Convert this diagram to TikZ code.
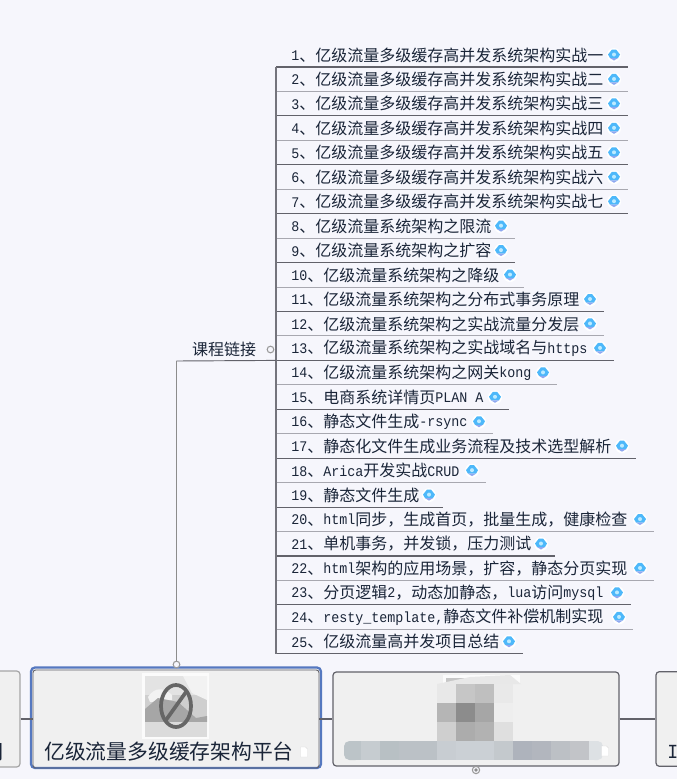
\documentclass[tikz,border=0pt]{standalone}
\usepackage{fontspec}
\setmainfont{Noto Sans CJK SC}
\newfontfamily\latinm[FakeStretch=0.91]{Liberation Mono}
\newcommand{\mm}[1]{\raisebox{0.5pt}{\fontsize{11pt}{12pt}\latinm #1}}
\definecolor{bgc}{HTML}{F6F6FC}
\definecolor{boxf}{HTML}{F0F0F0}
\definecolor{txtc}{HTML}{1A2538}
\definecolor{linedark}{HTML}{62626A}
\definecolor{linelight}{HTML}{A8A8B0}
\definecolor{trunkc}{HTML}{74747C}
\definecolor{selblue}{HTML}{5578C0}
\definecolor{gemb}{HTML}{4DB8FA}
\definecolor{gemc}{HTML}{BDEBFF}
\definecolor{gemp}{HTML}{8FA8F0}
\definecolor{mA}{HTML}{BCC4C8}
\definecolor{mB}{HTML}{C6CCD0}
\definecolor{mC}{HTML}{B8C0C4}
\definecolor{mD}{HTML}{BBC1C6}
\definecolor{mE}{HTML}{C8CDD2}
\definecolor{mF}{HTML}{CBD0D5}
\definecolor{mG}{HTML}{C4C9CD}
\definecolor{mH}{HTML}{AEB3BC}
\definecolor{mI}{HTML}{B2B6BE}
\definecolor{mJ}{HTML}{BCC0C5}
\definecolor{mK}{HTML}{C2C4C8}
\definecolor{mL}{HTML}{DDE1E4}
\tikzset{
  rowlabel/.style={anchor=west,inner sep=0pt,text=txtc,font=\fontsize{12pt}{12pt}\selectfont},
  mapbox/.style={draw=#1,line width=0.9pt,rounded corners=2.5pt,fill=boxf},
  boxlabel/.style={inner sep=0pt,text=txtc,font=\fontsize{15.6pt}{16pt}\selectfont},
  conn/.style={draw=linedark,line width=1.3pt},
  knob/.style={circle,draw=gray!80,line width=0.8pt,fill=bgc,inner sep=0pt,minimum size=5pt},
}
\newcommand{\gem}[2]{%
  \fill[white] (#1,#2) circle (7);
  \fill[gemb] (#1-6,#2-0.5) -- (#1-2,#2-5.5) -- (#1+2,#2-5.5) -- (#1+6,#2-0.5) -- (#1+4,#2+3) -- (#1-4,#2+3) -- cycle;
  \fill[gemp] (#1-4,#2+3) -- (#1+4,#2+3) -- (#1,#2+5.5) -- cycle;
  \fill[gemc] (#1,#2-0.5) circle (2);
}
\newcommand{\docicon}[2]{%
  \fill[white,draw=gray!25,line width=0.3pt] (#1-3.5,#2-5) -- (#1+1.5,#2-5) -- (#1+3.5,#2-3) -- (#1+3.5,#2+5) -- (#1-3.5,#2+5) -- cycle;
}
\newcommand{\rowitem}[3]{%
  \pgfmathsetmacro{\ry}{67+24.45*(#1-1)}
  \coordinate (l#1) at (276,\ry);
  \coordinate (e#1) at (#3,\ry);
  \node[rowlabel] (r#1) at (291,\ry-12) {\mm{#1}#2};
  \ifodd#1\relax
    \draw[draw=linedark,line width=0.8pt] (l#1) -- (e#1);
  \else
    \draw[draw=linelight,line width=0.8pt] (l#1) -- (e#1);
  \fi
  \gem{#3-14}{\ry-12}
}
\newcommand{\tile}[5]{\fill[#5] (#1,#2) rectangle (#3,#4);}
\begin{document}
\begin{tikzpicture}[x=0.75pt,y=-0.75pt]
\useasboundingbox (0,0) rectangle (677,779);
\fill[bgc] (0,0) rectangle (677,779);
\clip (0,0) rectangle (677,779);

% rows
\rowitem{1}{、亿级流量多级缓存高并发系统架构实战一}{628}
\rowitem{2}{、亿级流量多级缓存高并发系统架构实战二}{628}
\rowitem{3}{、亿级流量多级缓存高并发系统架构实战三}{628}
\rowitem{4}{、亿级流量多级缓存高并发系统架构实战四}{628}
\rowitem{5}{、亿级流量多级缓存高并发系统架构实战五}{628}
\rowitem{6}{、亿级流量多级缓存高并发系统架构实战六}{628}
\rowitem{7}{、亿级流量多级缓存高并发系统架构实战七}{628}
\rowitem{8}{、亿级流量系统架构之限流}{515}
\rowitem{9}{、亿级流量系统架构之扩容}{515}
\rowitem{10}{、亿级流量系统架构之降级}{524}
\rowitem{11}{、亿级流量系统架构之分布式事务原理}{604}
\rowitem{12}{、亿级流量系统架构之实战流量分发层}{604}
\rowitem{13}{、亿级流量系统架构之实战域名与\mm{https}}{614}
\rowitem{14}{、亿级流量系统架构之网关\mm{kong}}{557}
\rowitem{15}{、电商系统详情页\mm{PLAN A}}{509}
\rowitem{16}{、静态文件生成\mm{-rsync}}{493}
\rowitem{17}{、静态化文件生成业务流程及技术选型解析}{636}
\rowitem{18}{、\mm{Arica}开发实战\mm{CRUD}}{486}
\rowitem{19}{、静态文件生成}{443}
\rowitem{20}{、\mm{html}同步，生成首页，批量生成，健康检查}{654}
\rowitem{21}{、单机事务，并发锁，压力测试}{555}
\rowitem{22}{、\mm{html}架构的应用场景，扩容，静态分页实现}{654}
\rowitem{23}{、分页逻辑\mm{2}，动态加静态，\mm{lua}访问\mm{mysql}}{631}
\rowitem{24}{、\mm{resty\_template,}静态文件补偿机制实现}{633}
\rowitem{25}{、亿级流量高并发项目总结}{523}

% trunk
\draw[draw=trunkc,line width=1.3pt] (l1) -- (l25);

% bottom boxes
\node[mapbox=gray!70,minimum width=45pt,minimum height=72pt,inner sep=0pt] (boxa) at (-10,719) {};
\node[mapbox=linedark,minimum width=214.5pt,minimum height=70.5pt,inner sep=0pt] (boxc) at (476,719) {};
\node[mapbox=linedark,minimum width=60pt,minimum height=71pt,inner sep=0pt] (boxd) at (696,719) {};
\draw[selblue,line width=1.7pt,rounded corners=3pt,fill=boxf] (31,667.5) rectangle (321,768);
\node[draw=linedark,line width=0.7pt,rounded corners=2pt,minimum width=214.5pt,minimum height=73.5pt,inner sep=0pt] (boxb) at (176,719) {};

% connectors
\draw[conn] (boxa.east) -- (boxb.west);
\draw[conn] (boxb.east) -- (boxc.west);
\draw[conn] (boxc.east) -- (boxd.west);

% course-link branch
\node[inner sep=0pt,text=txtc,font=\fontsize{12pt}{12pt}\selectfont] (course) at (224,349) {课程链接};
\node[knob] (knoba) at (270.5,349.5) {};
\node[knob] (knobb) at (176.5,664.5) {};
\coordinate (corner) at (176.5,361);
\draw[draw=linedark,line width=0.7pt] (l13) -- (corner);
\draw[draw=gray!90,line width=0.9pt] (corner) -- (knobb);

% box-b picture
\fill[gray!3] (142,673) rectangle (209,739);
\fill[gray!38] (145,676) rectangle (207,737);
\fill[gray!22] (145,676) rectangle (207,695);
\fill[gray!10] (183,676) -- (207,676) -- (207,700) -- (192,693) -- cycle;
\fill[gray!10] (148,697) .. controls (155,686) and (165,688) .. (172,695) -- (172,700) -- (150,702) -- cycle;
\fill[gray!70] (145,709) -- (158,698) -- (178,702) -- (196,718) -- (207,716) -- (207,722) -- (145,722) -- cycle;
\fill[gray!28] (145,722) rectangle (207,737);
\draw[black!60,line width=2.8pt] (176,706) ellipse (15 and 21);
\draw[black!60,line width=2.8pt] (166,720) -- (186,692);

\node[boxlabel] (blabel) at (169,752) {亿级流量多级缓存架构平台};
\docicon{304}{752}

% clipped labels of neighbours
\node[boxlabel,anchor=east] (alabel) at (5,752.5) {用};
\node[boxlabel,anchor=west,font=\fontsize{15pt}{16pt}\latinm] (dlabel) at (667,752) {I};

% box-c mosaic
\fill[gray!3] (443,675) rectangle (520,684);
\fill[gray!45] (446,678) -- (470,678) -- (446,684) -- cycle;
\fill[gray!18] (470,677) -- (510,675) -- (521,684) -- (437,684) -- cycle;
\tile{437}{684}{456}{703}{gray!18}
\tile{456}{684}{475}{703}{gray!45}
\tile{475}{684}{494}{703}{gray!50}
\tile{494}{684}{513}{703}{gray!17}
\tile{437}{703}{456}{722}{gray!58}
\tile{456}{703}{475}{722}{gray!90}
\tile{475}{703}{494}{722}{gray!70}
\tile{494}{703}{513}{722}{gray!13}
\tile{437}{722}{456}{741}{gray!38}
\tile{456}{722}{475}{741}{gray!65}
\tile{475}{722}{494}{741}{gray!60}
\tile{494}{722}{513}{741}{gray!25}
\fill[mA,rounded corners=4pt] (344,741) rectangle (361,760);
\tile{352}{741}{361}{760}{mA}
\tile{361}{741}{380}{760}{mB}
\tile{380}{741}{399}{760}{mC}
\tile{399}{741}{437}{760}{mD}
\tile{437}{741}{456}{760}{mE}
\tile{456}{741}{494}{760}{mF}
\tile{494}{741}{513}{760}{mG}
\tile{513}{741}{532}{760}{mH}
\tile{532}{741}{551}{760}{mI}
\tile{551}{741}{570}{760}{mJ}
\tile{570}{741}{589}{760}{mK}
\fill[mL,rounded corners=4pt] (589,741) rectangle (603,760);
\tile{589}{741}{596}{760}{mL}
\tile{437}{760}{494}{765}{gray!12}
\docicon{605}{751}

\node[knob,minimum size=5.5pt] (knobc) at (476,770) {};
\fill[gray!90] (knobc) circle (1.8);
\end{tikzpicture}
\end{document}
